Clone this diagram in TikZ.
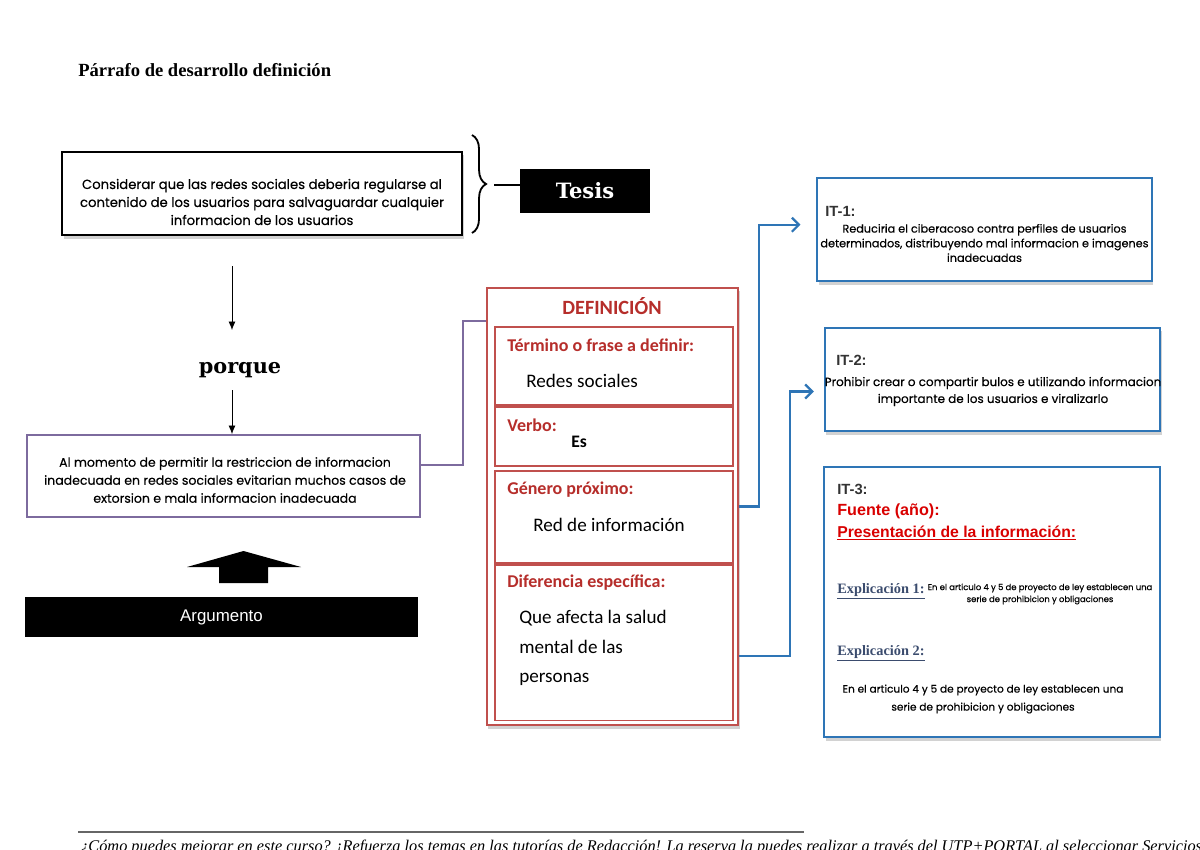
\documentclass[tikz,border=0pt]{standalone}
\usepackage{fontspec}
\setmainfont{Liberation Serif}
\setsansfont{Liberation Sans}
\newfontfamily\roundfont{Poppins}[FakeBold=0.4]
\newfontfamily\calfont{Carlito}
\newfontfamily\slabfont{DejaVu Serif}
\usetikzlibrary{ positioning,              % For easy node-relative placements
                 arrows.meta,              % For the arrow tips
                 shadows,                  % For the box shadows
                 decorations.pathreplacing % For the brace
               }
\definecolor{defred}{HTML}{C0504D}
\definecolor{labelred}{HTML}{B62E2B}
\definecolor{itblue}{HTML}{2E75B6}
\definecolor{argpurple}{HTML}{7D6B9E}
\definecolor{explblue}{HTML}{3B4C6E}

\begin{document}
\begin{tikzpicture}[x=0.025cm, y=-0.025cm,
  shadowed/.style={drop shadow={opacity=0.35, shadow xshift=0.04cm, shadow yshift=-0.09cm}},
  tesis_box/.style={draw=black, line width=1.3pt, fill=white, shadowed, inner sep=0pt},
  black_tag/.style={fill=black, text=white, inner sep=0pt},
  arg_box/.style={draw=argpurple, line width=1.4pt, fill=white, inner sep=0pt},
  def_outer/.style={draw=defred, line width=1.5pt, fill=white, shadowed, inner sep=0pt},
  def_inner/.style={draw=defred, line width=0.9pt, inner sep=0pt},
  it_box/.style={draw=itblue, line width=1.4pt, fill=white, shadowed, inner sep=0pt},
  round_text/.style={inner sep=0pt, align=center, font=\roundfont\fontsize{9.4}{12.8}\selectfont},
  def_label/.style={anchor=west, inner sep=0pt, text=labelred, font=\calfont\bfseries\fontsize{12.8}{14}\selectfont},
  def_text/.style={anchor=west, inner sep=0pt, font=\calfont\fontsize{13.6}{15}\selectfont},
  it_label/.style={anchor=west, inner sep=0pt, text=black!80, font=\sffamily\bfseries\fontsize{10.5}{12}\selectfont},
  red_head/.style={anchor=west, inner sep=0pt, text=red!85!black, font=\sffamily\bfseries\fontsize{11.5}{13}\selectfont},
  expl_label/.style={anchor=west, inner sep=0pt, text=explblue, font=\bfseries\fontsize{10.2}{12}\selectfont},
  thin_arrow/.style={-{Latex[length=6pt,width=5pt]}, line width=0.6pt},
  blue_arrow/.style={draw=itblue, line width=1.6pt, -{Straight Barb[length=5pt,width=10pt,line width=1.6pt]}}
  ]
  \useasboundingbox[fill=white] (0,0) rectangle (1200,849);

  \node[anchor=west, inner sep=0pt, font=\bfseries\fontsize{13.2}{15}\selectfont] (title) at (78,70) {Párrafo de desarrollo definición};

  \node[tesis_box, minimum width=10cm, minimum height=2.08cm] (tesis_box) at (262,193.5) {};
  \node[round_text] (tesis_text) at (262,202) {Considerar que las redes sociales deberia regularse al\\contenido de los usuarios para salvaguardar cualquier\\informacion de los usuarios};
  \node[black_tag, minimum width=3.25cm, minimum height=1.08cm, font=\slabfont\bfseries\fontsize{15}{17}\selectfont] (tesis_tag) at (585,191) {Tesis};
  \draw[line width=1.3pt, decorate, decoration={brace, amplitude=10pt, aspect=0.5}] (472,135) -- (472,233);
  \coordinate (brace_tip) at (494,185);
  \draw[line width=1.3pt] (brace_tip) -- (tesis_tag.west |- brace_tip);

  \node[inner sep=0pt, font=\slabfont\bfseries\fontsize{14.8}{17}\selectfont] (porque) at (240,370) {porque};
  \node[arg_box, minimum width=9.83cm, minimum height=2.05cm] (arg_box) at (223.5,476) {};
  \node[round_text, font=\roundfont\fontsize{8.9}{12.8}\selectfont] (arg_text) at (225,480) {Al momento de permitir la restriccion de informacion\\inadecuada en redes sociales evitarian muchos casos de\\extorsion e mala informacion inadecuada};

  \draw[thin_arrow, shorten <=0.75cm, shorten >=0.8cm] ([xshift=-0.75cm]tesis_box.south) -- ([xshift=-0.75cm]tesis_box.south |- porque.north);
  \draw[thin_arrow, shorten <=0.3cm] ([xshift=-0.75cm]tesis_box.south |- porque.south) -- ([xshift=-0.75cm]tesis_box.south |- arg_box.north);

  \node[black_tag, minimum width=9.83cm, minimum height=1.02cm, font=\sffamily\fontsize{12}{14}\selectfont] (argumento) at (221.5,617) {Argumento};
  \fill (187,567) -- (243.5,551) -- (301,567) -- (268,567) -- (268,583) -- (219,583) -- (219,567) -- cycle;

  \node[def_outer, minimum width=6.28cm, minimum height=10.93cm] (def_box) at (612.5,506.5) {};
  \node[inner sep=0pt, text=labelred, font=\calfont\bfseries\fontsize{14.4}{16}\selectfont] (def_title) at (612,306) {DEFINICIÓN};
  \node[def_inner, minimum width=5.95cm, minimum height=1.95cm] (term_box) at (614,366) {};
  \node[def_inner, minimum width=5.95cm, minimum height=1.48cm] (verb_box) at (614,436.5) {};
  \node[def_inner, minimum width=5.95cm, minimum height=2.3cm] (genre_box) at (614,517) {};
  \node[def_inner, minimum width=5.95cm, minimum height=3.88cm] (diff_box) at (614,642.5) {};

  \node[def_label] (term_label) at (507,345) {Término o frase a definir:};
  \node[def_text] (term_text) at (526,381) {Redes sociales};
  \node[def_label] (verb_label) at (507,425) {Verbo:};
  \node[def_text, font=\calfont\bfseries\fontsize{12.5}{14}\selectfont] (verb_text) at (571,442) {Es};
  \node[def_label] (genre_label) at (507,490) {Género próximo:};
  \node[def_text] (genre_text) at (533,525) {Red de información};
  \node[def_label] (diff_label) at (507,583) {Diferencia específica:};
  \node[def_text, align=left, font=\calfont\fontsize{13.6}{21}\selectfont] (diff_text) at (519,648) {Que afecta la salud\\mental de las\\personas};

  \draw[argpurple, line width=1.4pt] ([yshift=0.28cm]arg_box.east) -- ++(42,0) |- ([yshift=-0.85cm]def_box.north west);

  \node[it_box, minimum width=8.35cm, minimum height=2.58cm] (it1_box) at (984.5,229.5) {};
  \node[it_label] (it1_label) at (825,211) {IT-1:};
  \node[round_text, font=\roundfont\fontsize{8}{10.4}\selectfont] (it1_text) at (984.5,243) {Reduciria el ciberacoso contra perfiles de usuarios\\determinados, distribuyendo mal informacion e imagenes\\inadecuadas};

  \node[it_box, minimum width=8.38cm, minimum height=2.58cm] (it2_box) at (992.5,379.5) {};
  \node[it_label] (it2_label) at (836,360) {IT-2:};
  \node[round_text, font=\roundfont\fontsize{8.5}{12}\selectfont] (it2_text) at (993,391.5) {Prohibir crear o compartir bulos e utilizando informacion\\importante de los usuarios e viralizarlo};

  \node[it_box, minimum width=8.38cm, minimum height=6.75cm] (it3_box) at (992,602) {};
  \node[it_label] (it3_label) at (837,489) {IT-3:};
  \node[red_head] (source) at (837,511) {Fuente (año):};
  \node[red_head, font=\sffamily\bfseries\fontsize{11.2}{13}\selectfont] (presentation) at (837,533) {\underline{Presentación de la información:}};
  \node[expl_label] (expl1_label) at (837,591) {\underline{Explicación 1:}};
  \node[round_text, font=\roundfont\fontsize{6}{8.5}\selectfont] (expl1_text) at (1040,594) {En el articulo 4 y 5 de proyecto de ley establecen una\\serie de prohibicion y obligaciones};
  \node[expl_label] (expl2_label) at (837,653) {\underline{Explicación 2:}};
  \node[round_text, font=\roundfont\fontsize{7.5}{12.8}\selectfont] (expl2_text) at (983,699) {En el articulo 4 y 5 de proyecto de ley establecen una\\serie de prohibicion y obligaciones};

  \draw[blue_arrow, shorten >=0.4cm] (def_box.east) -- ++(20,0) |- ([yshift=0.12cm]it1_box.west);
  \draw[blue_arrow, shorten >=0.25cm] ([yshift=-0.33cm]diff_box.east -| def_box.east) -- ++(51,0) |- ([yshift=-0.3cm]it2_box.west);

  \draw[black!60, line width=1.5pt] (78,832) -- (804,832);
  \node[anchor=base west, inner sep=0pt, font=\itshape\fontsize{11.6}{13}\selectfont] (footer) at (80,851) {¿Cómo puedes mejorar en este curso? ¡Refuerza los temas en las tutorías de Redacción! La reserva la puedes realizar a través del UTP+PORTAL al seleccionar Servicios};
\end{tikzpicture}
\end{document}
